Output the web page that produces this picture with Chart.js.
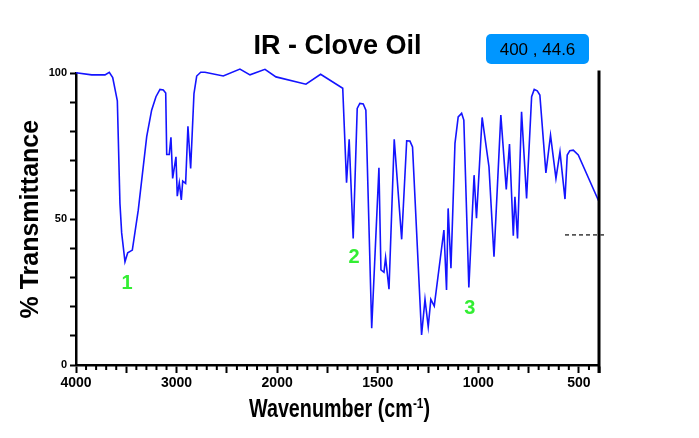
<!DOCTYPE html>
<html>
<head>
<meta charset="utf-8">
<script src="https://cdn.jsdelivr.net/npm/chart.js@4.4.1/dist/chart.umd.min.js"></script>
<style>
  body { margin: 0; background: #fff; }
  #wrap { width: 699px; height: 438px; }
</style>
</head>
<body>
<div id="wrap"><canvas id="ir-chart" width="699" height="438"></canvas></div>
<script>
// IR spectrum of clove oil
const wavenumbers = [
  4000, 3844, 3712, 3669, 3635, 3589, 3563, 3546, 3513, 3486, 3440, 3381, 3297, 3248, 3205,
  3165, 3132, 3108, 3098, 3073, 3056, 3039, 3006, 2993, 2973, 2953, 2939, 2910, 2887, 2860,
  2827, 2800, 2760, 2718, 2536, 2370, 2270, 2121, 2012, 1857, 1784, 1674, 1655, 1642, 1622,
  1602, 1589, 1572, 1559, 1530, 1494, 1484, 1469, 1461, 1444, 1418, 1381, 1356, 1340, 1327,
  1282, 1265, 1249, 1236, 1219, 1171, 1158, 1150, 1136, 1116, 1100, 1083, 1072, 1047, 1021,
  1009, 981, 947, 922, 888, 861, 845, 826, 818, 805, 785, 760, 735, 722, 707,
  694, 664, 641, 614, 594, 569, 558, 545, 528, 503, 400
];
const transmittance = [
  100.2, 99.5, 99.5, 100.4, 98.6, 90.6, 55.4, 45.3, 35.4, 38.5, 39.4, 53.1, 78.3, 87.4, 92.0,
  94.5, 94.3, 93.3, 72.2, 72.2, 78.1, 64.0, 71.4, 57.9, 62.5, 56.6, 63.1, 62.3, 81.9, 67.4,
  93.1, 99.1, 100.4, 100.4, 99.1, 101.5, 99.5, 101.4, 98.8, 96.3, 99.7, 94.9, 62.5, 77.4, 43.4,
  88.0, 89.7, 89.5, 87.4, 12.6, 67.6, 32.6, 31.8, 36.8, 26.0, 77.4, 43.1, 76.9, 76.8, 74.8,
  10.3, 22.5, 13.1, 22.5, 20.2, 46.3, 25.7, 53.7, 33.2, 76.0, 85.1, 86.3, 84.0, 26.6, 65.1,
  50.3, 84.9, 68.0, 37.1, 85.7, 60.2, 75.8, 44.3, 57.7, 43.4, 86.8, 57.1, 92.0, 94.5, 94.0,
  92.6, 65.9, 78.8, 64.0, 73.1, 56.9, 72.0, 73.5, 73.7, 72.0, 56.0
];
const xTickLabels = ['4000', '3000', '2000', '1500', '1000', '500'];
const yTickLabels = ['0', '50', '100'];

// numbered peaks
const peakNames = ['1', '2', '3'];
const peakWavenumbers = [3493, 1618, 1042];
const peakLabelT = [28.1, 36.7, 19.5];

// cursor readout
const cursorWavenumber = 400;
const cursorT = 44.6;

// the axis is compressed 2x above 2000 cm-1, like most IR plots
function toAxis(w) { return w >= 2000 ? 4000 - w : 2000 + 2 * (2000 - w); }
function fromAxis(p) { return p <= 2000 ? 4000 - p : 2000 - (p - 2000) / 2; }

const FONT = "'Liberation Sans', Arial, sans-serif";

const axisEnd = toAxis(400);
const majorTicks = [];
for (let p = 0; p <= 5000; p += 500) majorTicks.push(p);
majorTicks.push(axisEnd);

const decorations = {
  id: 'decorations',
  afterDatasetsDraw(chart) {
    const { ctx, chartArea, scales: { x, y } } = chart;
    ctx.save();

    // minor ticks on the wavenumber axis
    ctx.strokeStyle = '#000';
    ctx.lineWidth = 2;
    for (let p = 0; p <= axisEnd; p += 100) {
      if (majorTicks.includes(p)) continue;
      const px = x.getPixelForValue(p);
      ctx.beginPath();
      ctx.moveTo(px, chartArea.bottom);
      ctx.lineTo(px, chartArea.bottom + 5);
      ctx.stroke();
    }

    // cursor line and crosshair
    const cx = x.getPixelForValue(toAxis(cursorWavenumber));
    const cy = y.getPixelForValue(cursorT);
    ctx.lineWidth = 3;
    ctx.beginPath();
    ctx.moveTo(cx, y.getPixelForValue(101));
    ctx.lineTo(cx, chartArea.bottom + 8);
    ctx.stroke();

    ctx.strokeStyle = '#555';
    ctx.lineWidth = 1.8;
    ctx.setLineDash([4, 3]);
    ctx.beginPath();
    ctx.moveTo(cx - 34, cy);
    ctx.lineTo(cx + 6, cy);
    ctx.stroke();
    ctx.setLineDash([]);

    // peak numbers
    ctx.fillStyle = '#33ee33';
    ctx.font = `bold 20px ${FONT}`;
    ctx.textAlign = 'center';
    ctx.textBaseline = 'middle';
    peakNames.forEach((name, i) => {
      ctx.fillText(name, x.getPixelForValue(toAxis(peakWavenumbers[i])), y.getPixelForValue(peakLabelT[i]));
    });

    // readout badge
    const bw = 103, bh = 30;
    const bx = chartArea.right - 10 - bw, by = 34;
    ctx.fillStyle = '#0096ff';
    ctx.beginPath();
    ctx.roundRect(bx, by, bw, bh, 5);
    ctx.fill();
    ctx.fillStyle = '#000';
    ctx.font = `17px ${FONT}`;
    ctx.fillText(`${cursorWavenumber} , ${cursorT}`, bx + bw / 2, by + bh / 2 + 1);

    // x axis title with superscript, set in a condensed face
    const main = 'Wavenumber (cm', sup = '-1', tail = ')';
    const bigFont = `bold 25px ${FONT}`, smallFont = `bold 15px ${FONT}`;
    const squeeze = 0.79;
    ctx.font = bigFont;
    const wMain = ctx.measureText(main).width, wTail = ctx.measureText(tail).width;
    ctx.font = smallFont;
    const wSup = ctx.measureText(sup).width;
    const total = (wMain + wSup + wTail) * squeeze;
    ctx.translate((chartArea.left + chartArea.right) / 2 + 2 - total / 2, 417);
    ctx.scale(squeeze, 1);
    ctx.textAlign = 'left';
    ctx.textBaseline = 'alphabetic';
    ctx.font = bigFont;
    ctx.fillText(main, 0, 0);
    ctx.font = smallFont;
    ctx.fillText(sup, wMain, -9);
    ctx.font = bigFont;
    ctx.fillText(tail, wMain + wSup, 0);

    ctx.restore();
  }
};

new Chart(document.getElementById('ir-chart'), {
  type: 'line',
  data: {
    datasets: [{
      data: wavenumbers.map((w, i) => ({ x: toAxis(w), y: transmittance[i] })),
      borderColor: '#1414ff',
      borderWidth: 1.6,
      pointRadius: 0,
      tension: 0,
      clip: false
    }]
  },
  options: {
    responsive: false,
    animation: false,
    layout: { padding: { left: 0, right: 100, top: 0, bottom: 0 } },
    plugins: {
      legend: { display: false },
      tooltip: { enabled: false },
      title: {
        display: true,
        text: 'IR - Clove Oil',
        fullSize: false,
        color: '#000',
        font: { family: FONT, size: 27, weight: 'bold' },
        padding: { top: 30, bottom: 11 }
      }
    },
    scales: {
      x: {
        type: 'linear',
        min: 0,
        max: axisEnd,
        afterBuildTicks(scale) { scale.ticks = majorTicks.map(v => ({ value: v })); },
        afterFit(scale) { scale.height = 73; },
        border: { color: '#000', width: 2.5 },
        grid: { drawOnChartArea: false, tickLength: 8, tickWidth: 2, tickColor: '#000' },
        ticks: {
          autoSkip: false,
          maxRotation: 0,
          padding: 2,
          color: '#000',
          font: { family: FONT, size: 14, weight: 'bold' },
          callback(v) {
            const w = String(Math.round(fromAxis(v)));
            return xTickLabels.includes(w) ? w : '';
          }
        }
      },
      y: {
        min: 0,
        max: 100,
        afterFit(scale) { scale.width = 76; },
        border: { color: '#000', width: 2.5 },
        grid: { drawOnChartArea: false, tickLength: 6, tickWidth: 2, tickColor: '#000' },
        ticks: {
          stepSize: 10,
          padding: 3,
          color: '#000',
          font: { family: FONT, size: 11, weight: 'bold' },
          callback: v => (yTickLabels.includes(String(v)) ? String(v) : '')
        },
        title: {
          display: true,
          text: '% Transmittance',
          color: '#000',
          font: { family: FONT, size: 25, weight: 'bold' },
          padding: { top: 16, bottom: 0 }
        }
      }
    }
  },
  plugins: [decorations]
});
</script>
</body>
</html>
